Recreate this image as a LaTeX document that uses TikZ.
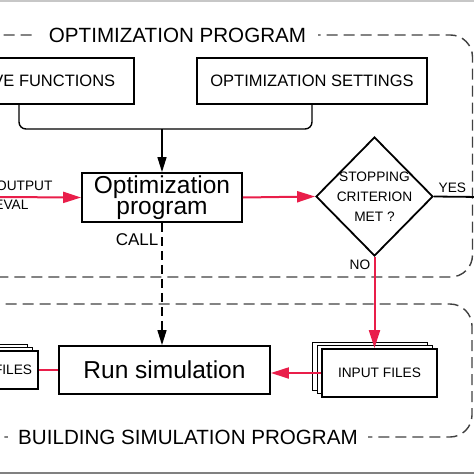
\documentclass[tikz,border=0pt]{standalone}
\usepackage{fontspec}
\setmainfont{Liberation Sans}
\usetikzlibrary{arrows.meta,shapes.geometric}

\definecolor{flowred}{RGB}{233,30,74}
\newcommand\progtitlefont{\fontsize{20.6}{24}\selectfont}
\newcommand\settingfont{\fontsize{16.5}{19}\selectfont}
\newcommand\stepfont{\fontsize{24.5}{21}\selectfont}
\newcommand\notefont{\fontsize{13.7}{20}\selectfont}
\newcommand\callfont{\fontsize{17}{20}\selectfont}

\begin{document}
\begin{tikzpicture}[x=1pt, y=-1pt,
    box/.style={draw, line width=1.8pt, inner sep=0pt, fill=white},
    sheet/.style={draw, line width=1pt, fill=white, minimum width=115pt, minimum height=48pt},
    redline/.style={draw=flowred, line width=2pt},
    redarrow/.style={redline, -{Triangle[length=18pt,width=11pt]}},
    blackarrow/.style={line width=1.4pt, -{Triangle[length=15pt,width=9pt]}},
    frame/.style={draw=black!75, line width=1.4pt, dash pattern=on 11pt off 6pt, rounded corners=22pt}]
  \useasboundingbox (0,0) rectangle (474,474);
  \clip (0,0) rectangle (474,474);

  % dashed program frames
  \draw[frame] (-30,35) rectangle (472.5,277);
  \node[fill=white, font=\progtitlefont, inner xsep=12pt] (optlabel) at (177.5,35) {OPTIMIZATION PROGRAM};
  \draw[frame] (-30,304) rectangle (472,437);
  \node[fill=white, font=\progtitlefont, inner xsep=10pt] (simlabel) at (188,437) {BUILDING SIMULATION PROGRAM};

  % optimization part
  \node[box, minimum width=230pt, minimum height=46pt, font=\settingfont] (objective) at (19,81) {OBJECTIVE FUNCTIONS};
  \node[box, minimum width=230pt, minimum height=46pt, font=\settingfont] (settings) at (312,81) {OPTIMIZATION SETTINGS};
  \node[box, minimum width=160pt, minimum height=49pt, align=center, font=\stepfont] (optim) at (162,197.5) {Optimization\\program};
  \node[draw, diamond, line width=1.8pt, minimum width=117pt, minimum height=119pt, inner sep=0pt,
    label={[font=\notefont, align=center]center:STOPPING\\CRITERION\\MET ?}] (stop) at (374.5,196.5) {};
  \node[anchor=east, font=\notefont] (outlabel) at (56,186) {OUTPUT};
  \node[anchor=east, font=\notefont] (evallabel) at (32,205) {EVAL};

  % simulation part
  \node[box, minimum width=211pt, minimum height=48pt, font=\stepfont] (run) at (164.5,370) {Run simulation};
  \foreach \dx/\dy in {-10/-7, -5/-3.5}
    \node[sheet] at (379.5+\dx,373+\dy) {};
  \node[box, minimum width=115pt, minimum height=48pt, font=\notefont] (input) at (379.5,373) {INPUT FILES};
  \foreach \dx/\dy in {-11/-7, -5.5/-3.5}
    \node[sheet, minimum width=110pt, minimum height=38pt] at (-17+\dx,370+\dy) {};
  \node[box, minimum width=110pt, minimum height=38pt, font=\notefont] (output) at (-17,370) {OUTPUT FILES};

  % connectors
  \coordinate (merge) at (162,129);
  \coordinate (feed) at (-5,197);
  \coordinate (yesend) at (480,197);
  \draw[line width=1.4pt, rounded corners=7pt] (objective.south) |- (merge) -| (settings.south);
  \draw[blackarrow] (merge) -- (optim.north);
  \draw[redarrow] (feed) -- (optim.west);
  \draw[redarrow] (optim.east) -- (stop.west);
  \draw[line width=1.8pt] (stop.east) -- (yesend) node[pos=0.4, above, font=\notefont] {YES};
  \draw[redarrow] (stop.south) -- (stop.south |- input.north) node[pos=0.09, left, font=\notefont] {NO};
  \draw[redarrow] (input.west) -- (input.west -| run.east);
  \draw[redline] (run.west) -- (run.west -| output.east);
  \draw[blackarrow, dash pattern=on 9pt off 5pt] (optim.south) -- (optim.south |- run.north)
    node[pos=0.14, left, font=\callfont, inner sep=3pt] {CALL};

  % scan edges
  \fill[black!22] (0,0) rectangle (474,2);
  \fill[black!50] (0,471.5) rectangle (474,474);
\end{tikzpicture}
\end{document}
